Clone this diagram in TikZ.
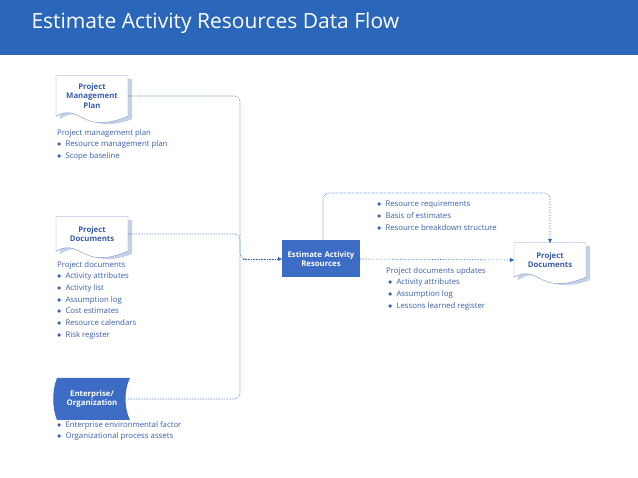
\documentclass[tikz,border=0pt]{standalone}
\usepackage{fontspec}
\setmainfont{Open Sans}
\usetikzlibrary{positioning,arrows.meta}
\definecolor{hdr}{HTML}{2A66BA}
\definecolor{boxb}{HTML}{3C6CC4}
\definecolor{txt}{HTML}{3A5DA8}
\definecolor{edge}{HTML}{7F98C8}
\tikzset{
  doc/.style={minimum width=71pt, minimum height=40pt, text width=65pt, align=center, font=\fontsize{7.8}{9.5}\selectfont\bfseries, text=txt},
  lst/.style={anchor=north west, align=left, text=txt, font=\fontsize{7.8}{11.7}\selectfont, inner sep=0pt},
  flow/.style={draw=hdr, densely dotted, semithick, rounded corners=6pt},
  arr/.style={flow, -{Triangle[length=4pt,width=4pt]}}
}
\newcommand{\bul}{$\bullet$\ \ }
% wavy document outline around a named node
\newcommand{\docpath}[1]{%
  \fill[edge!45] ([xshift=4pt,yshift=-3pt]#1.north west) -- ([xshift=4pt,yshift=-3pt]#1.north east) -- ([xshift=4pt,yshift=-3pt]#1.south east)
    .. controls ([xshift=-8pt,yshift=-20pt]#1.south) and ([xshift=-6pt,yshift=14pt]#1.south) .. ([xshift=4pt,yshift=-3pt]#1.south west) -- cycle;
  \draw[edge, fill=white] (#1.north west) -- (#1.north east) -- (#1.south east)
    .. controls ([xshift=-12pt,yshift=-20pt]#1.south) and ([xshift=-10pt,yshift=14pt]#1.south) .. (#1.south west) -- cycle;}
\begin{document}
\begin{tikzpicture}[x=1pt,y=-1pt]
\useasboundingbox (0,0) rectangle (638,478);
\fill[hdr] (0,0) rectangle (638,55);
\node[anchor=west, text=white, font=\fontsize{21}{24}\selectfont] (title) at (28,23) {Estimate Activity Resources Data Flow};
% inputs
\node[doc] (pmp) at (92,96) {};
\docpath{pmp}
\node[doc] at (pmp) {Project\\Management\\Plan};
\node[doc, minimum height=34pt] (pd) at (92,234) {};
\docpath{pd}
\node[doc] at (pd) {Project\\Documents};
\fill[boxb] (57,378) -- (130,378) .. controls (124,390) and (124,408) .. (130,420) -- (57,420) .. controls (52,408) and (52,390) .. (57,378) -- cycle;
\node[doc, text=white] (eo) at (92,399) {Enterprise/\\Organization};
% process and output
\node[fill=boxb, minimum width=70pt, minimum height=37pt, text width=78pt, inner xsep=0pt, align=center, text=white, font=\fontsize{7.8}{9.5}\selectfont\bfseries] (ear) at (321,259) {Estimate Activity\\Resources};
\node[doc, minimum height=34pt] (out) at (550,260) {};
\docpath{out}
\node[doc] at (out) {Project\\Documents};
\coordinate (merge) at (243,259);
% lists
\node[lst] (pmpl) at (57,129) {Project management plan\\ \bul Resource management plan\\ \bul Scope baseline};
\node[lst] (pdl) at (57,261) {Project documents\\ \bul Activity attributes\\ \bul Activity list\\ \bul Assumption log\\ \bul Cost estimates\\ \bul Resource calendars\\ \bul Risk register};
\node[lst] (eol) at (57,421) {\bul Enterprise environmental factor\\ \bul Organizational process assets};
\node[lst] (outl) at (377,201) {\bul Resource requirements\\ \bul Basis of estimates\\ \bul Resource breakdown structure};
\node[lst] (updl) at (386,267) {Project documents updates\\ \ \bul Activity attributes\\ \ \bul Assumption log\\ \ \bul Lessons learned register};
% connectors
\draw[flow] (pmp.east) -- (240,96) -- (240,259) -- (merge);
\draw[flow] (pd.east) -- (240,234) -- (240,259);
\draw[flow] (eo.east) -- (240,399) -- (240,259);
\draw[arr] (merge) -- (ear.west);
\draw[arr] (ear.north) ++(2,0) coordinate (up) -- (up |- 0,193) -- (550,193) -- (out.north);
\draw[arr] (ear.east) -- (out.west);
\end{tikzpicture}
\end{document}
